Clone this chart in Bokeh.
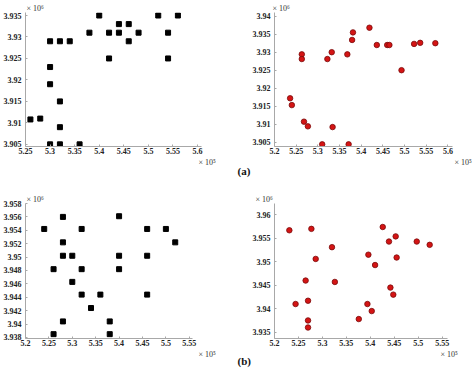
from bokeh.plotting import figure
from bokeh.layouts import column, row
from bokeh.models import FixedTicker, Title, Range1d, Label
from bokeh.embed import file_html
from bokeh.resources import INLINE

# ---------------- data ----------------
# (a) left: black squares
a1_x = [5.26, 5.28, 5.30, 5.30, 5.30, 5.30, 5.32, 5.32, 5.32, 5.32, 5.34, 5.36, 5.38,
        5.40, 5.42, 5.42, 5.44, 5.44, 5.46, 5.46, 5.48, 5.52, 5.54, 5.54, 5.56]
a1_y = [3.9108, 3.911, 3.929, 3.923, 3.919, 3.905, 3.929, 3.915, 3.909, 3.905, 3.929, 3.905, 3.931,
        3.935, 3.931, 3.925, 3.933, 3.931, 3.933, 3.929, 3.931, 3.935, 3.931, 3.925, 3.935]
# (a) right: red circles
a2_x = [5.236, 5.240, 5.263, 5.263, 5.268, 5.277, 5.310, 5.322, 5.332, 5.334, 5.368,
        5.371, 5.379, 5.381, 5.419, 5.436, 5.460, 5.465, 5.493, 5.522, 5.536, 5.571]
a2_y = [3.9172, 3.9153, 3.9294, 3.9281, 3.9107, 3.9094, 3.9044, 3.9281, 3.9300, 3.9092, 3.9294,
        3.9044, 3.9334, 3.9355, 3.9368, 3.9320, 3.9320, 3.9320, 3.9250, 3.9323, 3.9326, 3.9325]
# (b) left: black squares
b1_x = [5.24, 5.26, 5.26, 5.28, 5.28, 5.28, 5.28, 5.30, 5.30, 5.32, 5.32, 5.32,
        5.34, 5.36, 5.38, 5.38, 5.40, 5.40, 5.40, 5.46, 5.46, 5.46, 5.50, 5.52]
b1_y = [3.9542, 3.9482, 3.9385, 3.9522, 3.9560, 3.9502, 3.9404, 3.9502, 3.9463, 3.9542, 3.9482, 3.9444,
        3.9424, 3.9444, 3.9404, 3.9385, 3.9561, 3.9502, 3.9482, 3.9542, 3.9502, 3.9444, 3.9542, 3.9522]
# (b) right: red circles
b2_x = [5.231, 5.244, 5.265, 5.270, 5.270, 5.270, 5.277, 5.286, 5.320, 5.326, 5.376, 5.394,
        5.396, 5.403, 5.410, 5.426, 5.439, 5.442, 5.448, 5.453, 5.455, 5.497, 5.524]
b2_y = [3.9567, 3.9410, 3.9460, 3.9417, 3.9375, 3.9360, 3.9570, 3.9506, 3.9531, 3.9457, 3.9378, 3.9410,
        3.9515, 3.9395, 3.9493, 3.9574, 3.9543, 3.9445, 3.9430, 3.9554, 3.9509, 3.9543, 3.9536]

# tick values and labels
a1_xt = [5.25, 5.3, 5.35, 5.4, 5.45, 5.5, 5.55, 5.6]
a1_xl = ["5.25", "5.3", "5.35", "5.4", "5.45", "5.5", "5.55", "5.6"]
a1_yt = [3.905, 3.91, 3.915, 3.92, 3.925, 3.93, 3.935]
a1_yl = ["3.905", "3.91", "3.915", "3.92", "3.925", "3.93", "3.935"]
a2_xt = [5.2, 5.25, 5.3, 5.35, 5.4, 5.45, 5.5, 5.55, 5.6]
a2_xl = ["5.2", "5.25", "5.3", "5.35", "5.4", "5.45", "5.5", "5.55", "5.6"]
a2_yt = [3.905, 3.91, 3.915, 3.92, 3.925, 3.93, 3.935, 3.94]
a2_yl = ["3.905", "3.91", "3.915", "3.92", "3.925", "3.93", "3.935", "3.94"]
b1_xt = [5.2, 5.25, 5.3, 5.35, 5.4, 5.45, 5.5, 5.55]
b1_xl = ["5.2", "5.25", "5.3", "5.35", "5.4", "5.45", "5.5", "5.55"]
b1_yt = [3.938, 3.94, 3.942, 3.944, 3.946, 3.948, 3.95, 3.952, 3.954, 3.956, 3.958]
b1_yl = ["3.938", "3.94", "3.942", "3.944", "3.946", "3.948", "3.95", "3.952", "3.954", "3.956", "3.958"]
b2_xt = [5.2, 5.25, 5.3, 5.35, 5.4, 5.45, 5.5, 5.55]
b2_xl = ["5.2", "5.25", "5.3", "5.35", "5.4", "5.45", "5.5", "5.55"]
b2_yt = [3.935, 3.94, 3.945, 3.95, 3.955, 3.96]
b2_yl = ["3.935", "3.94", "3.945", "3.95", "3.955", "3.96"]

x_mult = "\u00d7 10\u2075"
y_mult = "\u00d7 10\u2076"
panel_a = "(a)"
panel_b = "(b)"

FONT = "Liberation Serif"
TXT = "#333333"


def make(w, h, bl, br, bt, bb, xr, yr, xt, xl, yt, yl):
    p = figure(width=w, height=h, x_range=Range1d(*xr), y_range=Range1d(*yr),
               output_backend="svg", toolbar_location=None,
               min_border_left=bl, min_border_right=br, min_border_top=bt, min_border_bottom=bb)
    p.outline_line_color = None
    p.grid.visible = False
    for ax, ticks, labels in ((p.xaxis[0], xt, xl), (p.yaxis[0], yt, yl)):
        ax.ticker = FixedTicker(ticks=ticks)
        ax.major_label_overrides = dict(zip(ticks, labels))
        ax.axis_line_color = "#a8a8a8"
        ax.axis_line_width = 1
        ax.major_tick_line_color = "#a8a8a8"
        ax.major_tick_in = 2
        ax.major_tick_out = 0
        ax.minor_tick_line_color = None
        ax.major_label_text_font = FONT
        ax.major_label_text_font_size = "8px"
        ax.major_label_text_font_style = "bold"
        ax.major_label_text_color = "#222222"
    p.xaxis[0].major_label_standoff = 1
    p.yaxis[0].major_label_standoff = 4
    return p


def add_title(p, txt, offset):
    p.add_layout(Title(text=txt, align="left", offset=offset, standoff=0,
                       text_font=FONT, text_font_size="8px", text_font_style="normal",
                       text_color=TXT), "above")


def strip(w, h):
    s = figure(width=w, height=h, x_range=Range1d(0, w), y_range=Range1d(0, h),
               x_axis_type=None, y_axis_type=None, output_backend="svg",
               toolbar_location=None, min_border=0)
    s.outline_line_color = None
    s.grid.visible = False
    return s


def strip_text(s, txt, x, y, size="8px", style="normal", color=TXT):
    s.add_layout(Label(x=x, y=y, x_units="screen", y_units="screen", text=txt,
                       text_font=FONT, text_font_size=size, text_font_style=style,
                       text_color=color, text_baseline="middle", text_align="left"))


SQ = dict(marker="square", size=5, fill_color="black", line_color="black")
CI = dict(marker="circle", size=5.5, fill_color="#d41414", line_color="#7a0a0a", line_width=0.8)

# ---- row (a) ----
f1 = make(237, 157, 22, 36, 12, 11, (5.25, 5.608), (3.9045, 3.9357), a1_xt, a1_xl, a1_yt, a1_yl)
f1.scatter(a1_x, a1_y, **SQ)
add_title(f1, y_mult, 1)

f2 = make(237, 157, 37, 22, 12, 11, (5.2, 5.6106), (3.9038, 3.94103), a2_xt, a2_xl, a2_yt, a2_yl)
f2.scatter(a2_x, a2_y, **CI)
add_title(f2, y_mult, -2)

sa = strip(474, 23)
strip_text(sa, x_mult, 198, 18.5)
strip_text(sa, x_mult, 454, 18.5)
strip_text(sa, panel_a, 237, 10, size="11px", style="bold", color="#111111")

# ---- row (b) ----
f3 = make(237, 169, 24, 45, 23, 11, (5.2, 5.5569), (3.93785, 3.9580), b1_xt, b1_xl, b1_yt, b1_yl)
f3.scatter(b1_x, b1_y, **SQ)
add_title(f3, y_mult, 1)

f4 = make(237, 169, 37, 27, 23, 11, (5.2, 5.5612), (3.93366, 3.9624), b2_xt, b2_xl, b2_yt, b2_yl)
f4.scatter(b2_x, b2_y, **CI)
add_title(f4, y_mult, -19)

sb = strip(474, 26)
strip_text(sb, x_mult, 198, 21.5)
strip_text(sb, x_mult, 440, 21.5)
strip_text(sb, panel_b, 237, 15, size="11px", style="bold", color="#111111")

layout = column(row(f1, f2, spacing=0), sa, row(f3, f4, spacing=0), sb, spacing=0)

open("out.html", "w").write(file_html(layout, INLINE))
